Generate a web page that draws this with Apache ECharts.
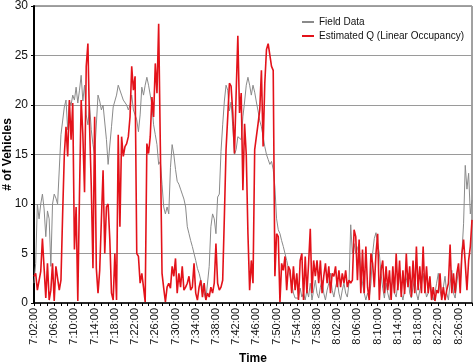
<!DOCTYPE html>
<html>
<head>
<meta charset="utf-8">
<script src="https://cdn.jsdelivr.net/npm/echarts@6/dist/echarts.min.js"></script>
<style>
html,body{margin:0;padding:0;background:#fff;}
#c{width:474px;height:364px;}
</style>
</head>
<body>
<div id="c"></div>
<script>
// Time categories: 20-second samples starting 7:02:00
var startTime = '7:02:00';
var stepSeconds = 20;
var sampleCount = 261;
var categories = [];
for (var i = 0; i < sampleCount; i++) {
  var s = 7 * 3600 + 2 * 60 + i * stepSeconds;
  var h = Math.floor(s / 3600), m = Math.floor((s % 3600) / 60), sec = s % 60;
  categories.push(h + ':' + (m < 10 ? '0' : '') + m + ':' + (sec < 10 ? '0' : '') + sec);
}

var seriesNames = ['Field Data', 'Estimated Q (Linear Occupancy)'];

var fieldData = [
2.0,4.0,10.0, 8.5,10.0,11.0, 9.5,6.7,9.3, 8.5,3.7,10.0, 11.0,10.6,10.0, 10.0,17.0,17.2,
19.8,20.5,17.5, 20.4,20.0,21.0, 20.5,21.8,20.2, 21.5,23.0,20.4, 22.0,19.0,18.0, 20.0,17.5,16.0,
15.0,15.0,21.0, 20.4,19.5,20.0, 20.0,16.5,14.0, 14.0,17.8,19.8, 20.0,21.0,22.0, 22.0,21.0,20.5,
20.3,20.0,19.5, 20.0,21.0,19.5, 19.0,18.5,17.3, 19.0,21.8,21.0, 22.0,22.8,22.0, 21.0,20.0,18.0,
17.0,16.0,14.0, 14.3,12.0,9.7, 9.0,9.7,9.0, 13.7,16.0,15.0, 13.5,12.3,12.0, 11.5,11.0,10.5,
9.7,7.7,7.0, 6.3,5.7,5.0, 4.3,3.5,3.0, 2.3,1.6,1.0, 0.3,0.2,3.7, 7.7,9.0,8.5,
7.0,10.7,11.0, 15.3,18.0,20.4, 22.0,21.5,19.4, 20.3,17.8,15.0, 15.5,16.8,17.0, 16.5,18.8,20.3,
22.0,22.8,22.0, 21.0,22.0,21.3, 20.3,19.4,18.4, 17.8,16.8,15.8, 15.0,14.5,14.0, 14.3,13.5,11.7,
8.5,7.4,7.0, 6.3,5.7,5.0, 4.3,3.5,2.7, 2.0,1.0,0.5, 0.3,0.5,1.5, 0.6,1.0,0.3,
1.3,0.6,2.0, 0.3,1.3,2.3, 1.0,0.5,1.6, 2.3,1.0,0.3, 1.3,2.0,3.0, 1.3,0.6,1.6,
2.3,1.0,0.3, 1.3,2.0,1.0, 0.6,2.0,7.9, 5.0,6.0,5.0, 5.5,6.0,3.0, 2.0,1.0,0.3,
1.0,0.5,2.0, 5.0,6.5,7.1, 6.0,5.0,3.0, 1.5,0.5,2.0, 1.0,0.3,1.6, 2.3,1.0,0.6,
2.0,3.0,1.0, 0.3,1.3,2.3, 3.0,1.0,0.5, 1.6,2.5,1.0, 0.3,1.3,2.0, 3.0,1.6,0.6,
1.0,2.3,1.0, 0.3,1.0,2.0, 3.0,1.3,0.5, 1.6,2.7,1.0, 0.3,2.0,3.3, 1.0,0.5,2.0,
3.5,2.0,5.0, 8.0,13.9,11.5, 13.1,9.0,10.4
];

var estimatedQ = [
2.7,3.0,1.3, 1.5,3.2,6.5, 3.5,0.5,4.0, 0.3,1.3,4.0, 0.2,3.7,3.8, 1.3,2.3,9.0,
15.0,17.8,14.8, 20.5,16.5,20.2, 5.4,9.7,0.2, 11.0,20.5,17.0, 11.2,23.9,26.2, 17.8,11.8,3.5,
18.8,3.5,1.0, 3.3,8.4,13.4, 5.0,9.7,10.0, 6.4,1.0,0.3, 5.0,0.3,17.0, 7.7,16.8,14.8,
15.8,16.1,16.8, 18.8,23.9,21.5, 22.9,5.0,4.7, 2.0,3.0,1.6, 0.1,16.1,15.1, 16.8,20.8,18.8,
24.2,21.2,28.2, 15.8,3.0,1.5, 0.1,1.6,2.0, 1.5,3.7,2.7, 4.5,1.0,3.0, 1.6,3.7,1.3,
1.6,2.0,2.7, 1.3,1.6,4.0, 1.0,0.3,1.6, 2.3,0.6,2.0, 0.3,1.0,0.6, 1.6,1.0,2.0,
6.0,2.0,1.3, 1.6,2.3,8.7, 15.5,18.8,22.2, 21.9,19.2,15.1, 21.2,27.0,19.2, 21.2,11.4,18.1,
15.0,7.0,1.3, 4.3,2.0,15.5, 16.8,18.1,19.5, 23.5,15.8,22.2, 25.6,26.2,26.4, 23.9,23.5,2.7,
7.0,6.7,0.1, 4.0,3.3,4.7, 1.3,3.7,3.3, 1.0,3.7,1.3, 3.0,0.3,4.3, 5.0,0.3,4.7,
1.0,4.0,7.5, 1.0,4.3,2.7, 4.3,2.0,4.3, 1.0,2.7,4.0, 2.0,3.7,1.0, 3.0,2.7,3.7,
1.6,3.3,1.6, 3.0,2.0,3.3, 1.6,2.3,2.0, 2.3,7.4,6.7, 2.3,6.4,1.0, 5.4,1.0,5.7,
1.6,0.3,5.0, 4.0,1.6,5.0, 7.0,0.3,3.3, 4.3,1.0,3.7, 1.3,3.3,0.3, 3.7,1.0,5.0,
1.3,4.3,0.6, 3.3,0.9,5.0, 1.6,3.7,0.6, 4.3,1.0,5.7, 1.3,3.7,1.0, 5.7,1.0,3.7,
1.0,2.7,0.3, 1.6,0.2,1.3, 1.0,3.0,0.3, 1.6,0.3,1.3, 2.0,5.9,1.0, 3.0,1.0,3.0,
4.0,1.0,5.0, 6.4,4.0,1.3, 4.3,5.7,8.4
];

var yMin = 0, yMax = 30, yStep = 5;

var font = 'Liberation Sans, Arial, Helvetica, sans-serif';
var chart = echarts.init(document.getElementById('c'), null, {renderer: 'canvas'});
chart.setOption({
  animation: false,
  backgroundColor: '#ffffff',
  textStyle: {fontFamily: font},
  grid: {left: 34, right: 2, top: 6, bottom: 61, show: true, borderColor: '#444', borderWidth: 1,
         containLabel: false, outerBoundsMode: 'none'},
  legend: {
    orient: 'vertical',
    left: 297, top: 12,
    itemGap: 4,
    itemWidth: 12, itemHeight: 2,
    icon: 'rect',
    textStyle: {fontFamily: font, fontSize: 10, color: '#111'},
    data: seriesNames
  },
  xAxis: {
    type: 'category',
    data: categories,
    boundaryGap: false,
    name: 'Time',
    nameLocation: 'middle',
    nameGap: 47,
    nameTextStyle: {fontFamily: font, fontSize: 12, fontWeight: 'bold', color: '#000'},
    axisLine: {lineStyle: {color: '#000', width: 1.5}},
    axisTick: {show: true, interval: 3, length: 3, lineStyle: {color: '#000'}},
    axisLabel: {interval: 11, rotate: 90, fontSize: 11, color: '#111', margin: 5, fontFamily: font},
    splitLine: {show: false}
  },
  yAxis: {
    type: 'value',
    min: yMin, max: yMax, interval: yStep,
    name: '# of Vehicles',
    nameLocation: 'middle',
    nameGap: 20,
    nameMoveOverlap: false,
    nameTextStyle: {fontFamily: font, fontSize: 12, fontWeight: 'bold', color: '#000'},
    axisLine: {show: true, lineStyle: {color: '#000', width: 2}},
    axisTick: {show: true, length: 3, lineStyle: {color: '#000'}},
    axisLabel: {fontSize: 12, color: '#111', margin: 6, fontFamily: font},
    splitLine: {lineStyle: {color: '#9a9a9a', width: 1}}
  },
  series: [
    {name: seriesNames[0], type: 'line', data: fieldData, symbol: 'none',
     lineStyle: {color: '#8a8a8a', width: 1}, itemStyle: {color: '#8a8a8a'}},
    {name: seriesNames[1], type: 'line', data: estimatedQ, symbol: 'none',
     lineStyle: {color: '#e3121a', width: 1.6}, itemStyle: {color: '#e3121a'}}
  ]
});
</script>
</body>
</html>
